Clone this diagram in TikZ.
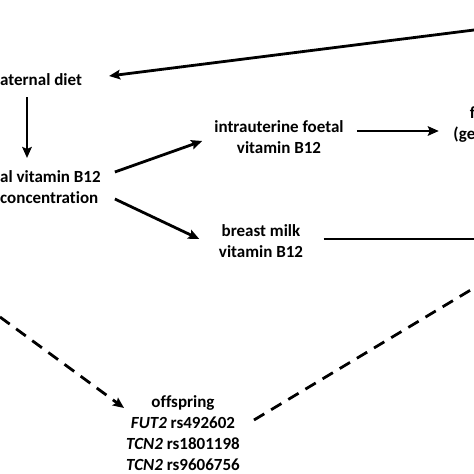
\documentclass[tikz,border=0pt]{standalone}
\usepackage{fontspec}
\setmainfont{Carlito}[Ligatures=NoCommon]
\usetikzlibrary{arrows.meta,calc}
\begin{document}
\begin{tikzpicture}[>={Stealth[length=11pt,width=9.5pt,inset=2pt]}, x=1pt, y=-1pt,
    lbl/.style={inner sep=0pt, font=\bfseries\fontsize{17}{21}\selectfont},
    arr/.style={->, line width=2.8pt},
    dsh/.style={line width=2.8pt, dash pattern=on 12pt off 8pt}]
      \useasboundingbox (0,0) rectangle (474,474);

      % Nodes (visible parts only)
      \node[lbl, anchor=west] (mdiet) at (0,80) {aternal diet};
      \node[lbl, anchor=west, align=left] (conc) at (0,187) {al vitamin B12\\concentration};
      \node[lbl, align=center] (intra) at (279,137) {intrauterine foetal\\vitamin B12};
      \node[lbl, align=center] (milk) at (261,241) {breast milk\\vitamin B12};
      \node[lbl, anchor=east, align=right] (fg) at (475.5,125) {f\\(ge};
      \node[lbl, align=center] (off) at (183,433.5)
        {offspring\\\textit{FUT2} rs492602\\\textit{TCN2} rs1801198\\\textit{TCN2} rs9606756};

      % Free ends at the picture border
      \coordinate (topend) at (474,30);
      \coordinate (milkend) at (474,239);
      \coordinate (leftend) at (0,317);
      \coordinate (rightend) at (474,288);

      % Solid arrows
      \draw[arr] (topend) -- ($(mdiet.east)+(27,-4)$);
      \draw[arr] ($(mdiet.west)+(27,17)$) -- ($(conc.west)+(27,-29)$);
      \draw[arr] ($(conc.east)+(14,-15)$) -- ($(intra.west)+(-12,4)$);
      \draw[arr] ($(conc.east)+(14,12)$) -- ($(milk.west)+(-19.5,-2)$);
      \draw[arr] ($(intra.east)+(13,-6)$) -- ($(fg.west)+(-14.5,6)$);
      \draw[line width=2.8pt] ($(milk.east)+(20.5,-2)$) -- (milkend);

      % Dashed lines
      \draw[dsh, ->] (leftend) -- ($(off.west)+(-2,-25.5)$);
      \draw[dsh] ($(off.east)+(14,-13.5)$) -- (rightend);
\end{tikzpicture}
\end{document}
